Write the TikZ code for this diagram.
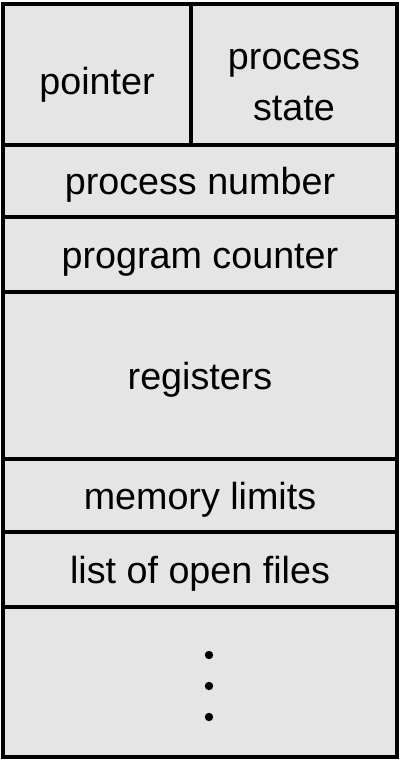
\documentclass[tikz,border=0pt]{standalone}
\usepackage{fontspec}
\setmainfont{Liberation Sans}
\usetikzlibrary{positioning}
\definecolor{pcbgray}{RGB}{229,229,229}

\begin{document}
\begin{tikzpicture}[
  field/.style={draw=black, line width=1.6pt, fill=pcbgray, minimum width=197pt, inner sep=0pt, outer sep=0pt, align=center, font=\fontsize{18.85}{25.5}\selectfont, text height=13.5pt, text depth=0pt},
  dot/.style={fill=black}
]
\useasboundingbox (0,0) rectangle (200pt,-381pt);
\node[field, anchor=north west, minimum width=94pt, minimum height=70.5pt, text height=19.5pt] (ptr) at (1.5pt,-2pt) {pointer};
\node[field, anchor=north west, minimum width=103pt, minimum height=70.5pt, text height=46pt] (state) at (ptr.north east) {process\\state};
\node[field, anchor=north west, minimum height=36pt] (num) at (ptr.south west) {process number};
\node[field, below=0pt of num, minimum height=37.5pt] (pc) {program counter};
\node[field, below=0pt of pc, minimum height=83.5pt] (regs) {registers};
\node[field, below=0pt of regs, minimum height=36.5pt] (mem) {memory limits};
\node[field, below=0pt of mem, minimum height=37.5pt] (files) {list of open files};
\node[field, below=0pt of files, minimum height=75pt] (rest) {};
% the three dots
\foreach \dy in {15.5pt,0pt,-15.5pt}
  \fill[dot] ([shift={(4.5pt,\dy-2pt)}]rest.center) circle (2.1pt);
\end{tikzpicture}
\end{document}
